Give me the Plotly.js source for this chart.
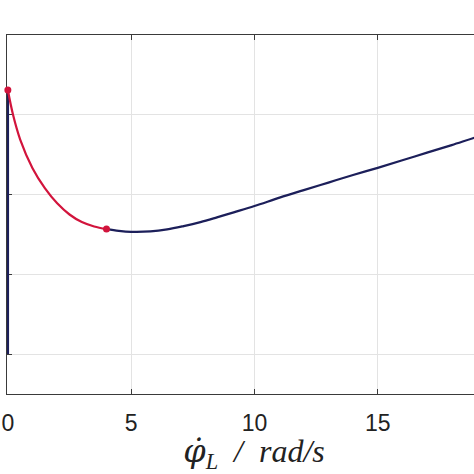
<!DOCTYPE html>
<html><head><meta charset="utf-8">
<script src="https://cdn.plot.ly/plotly-3.0.1.min.js"></script>
<style>html,body{margin:0;padding:0;overflow:hidden;background:#fff;width:474px;height:474px}#plot{width:520px;height:474px}</style>
</head><body><div id="plot"></div>
<script>
// vertical start segment at x = 0
const startX = [0, 0];
const startY = [1, 4.31];
// red branch (speed from 0 to 4 rad/s)
const redX = [0, 0.21, 0.5, 1.0, 1.5, 2.0, 2.5, 3.0, 3.5, 4.0];
const redY = [4.31, 4.0, 3.69, 3.33, 3.08, 2.89, 2.75, 2.655, 2.60, 2.567];
// blue branch (from 4 rad/s on)
const blueX = [4.0, 4.5, 5.0, 5.78, 6.46, 7.13, 7.81, 8.48, 9.16, 10.0, 11.05, 12, 13, 14, 15, 16, 17, 18, 19, 20];
const blueY = [2.567, 2.545, 2.533, 2.538, 2.563, 2.605, 2.655, 2.714, 2.777, 2.856, 2.965, 3.055, 3.15, 3.245, 3.335, 3.43, 3.525, 3.62, 3.72, 3.81];
// marked points
const markX = [0, 4.0];
const markY = [4.31, 2.567];
const xTicks = [0, 5, 10, 15];

const blue = '#1c1f5a', red = '#d2143c';
const traces = [
  {x: startX, y: startY, mode: 'lines', line: {color: blue, width: 2.4}, hoverinfo: 'skip'},
  {x: blueX, y: blueY, mode: 'lines', line: {color: blue, width: 2.2, shape: 'spline', smoothing: 1}, hoverinfo: 'skip'},
  {x: redX, y: redY, mode: 'lines', line: {color: red, width: 2.2, shape: 'spline', smoothing: 1}, hoverinfo: 'skip'},
  {x: markX, y: markY, mode: 'markers', marker: {color: red, size: 7}, cliponaxis: false, hoverinfo: 'skip'}
];
const axisCommon = {
  showline: true, linecolor: '#3a3a3a', linewidth: 1.2, mirror: 'ticks',
  ticks: 'inside', ticklen: 5, tickcolor: '#3a3a3a', tickwidth: 1,
  showgrid: true, gridcolor: '#e3e3e3', gridwidth: 1, zeroline: false,
  layer: 'below traces'
};
const layout = {
  width: 520, height: 474,
  margin: {l: 6.6, r: 19, t: 35, b: 80},
  showlegend: false,
  paper_bgcolor: '#fff', plot_bgcolor: '#fff',
  xaxis: Object.assign({}, axisCommon, {
    range: [-0.035, 20], tickvals: xTicks, ticktext: xTicks.map(String),
    tickfont: {family: 'Liberation Sans, Arial, sans-serif', size: 23, color: '#222'},
    ticklabeloverflow: 'allow', ticklabelstandoff: 8,
    title: {text: '<span style="font-family:DejaVu Serif">φ̇</span><sub>L</sub>  /  rad/s', font: {family: 'Liberation Serif, DejaVu Serif, serif', size: 32, color: '#222', style: 'italic'}, standoff: 4}
  }),
  yaxis: Object.assign({}, axisCommon, {
    range: [0.5, 5], dtick: 1, tick0: 0, showticklabels: false
  })
};
Plotly.newPlot('plot', traces, layout, {staticPlot: true, displayModeBar: false});
</script></body></html>
